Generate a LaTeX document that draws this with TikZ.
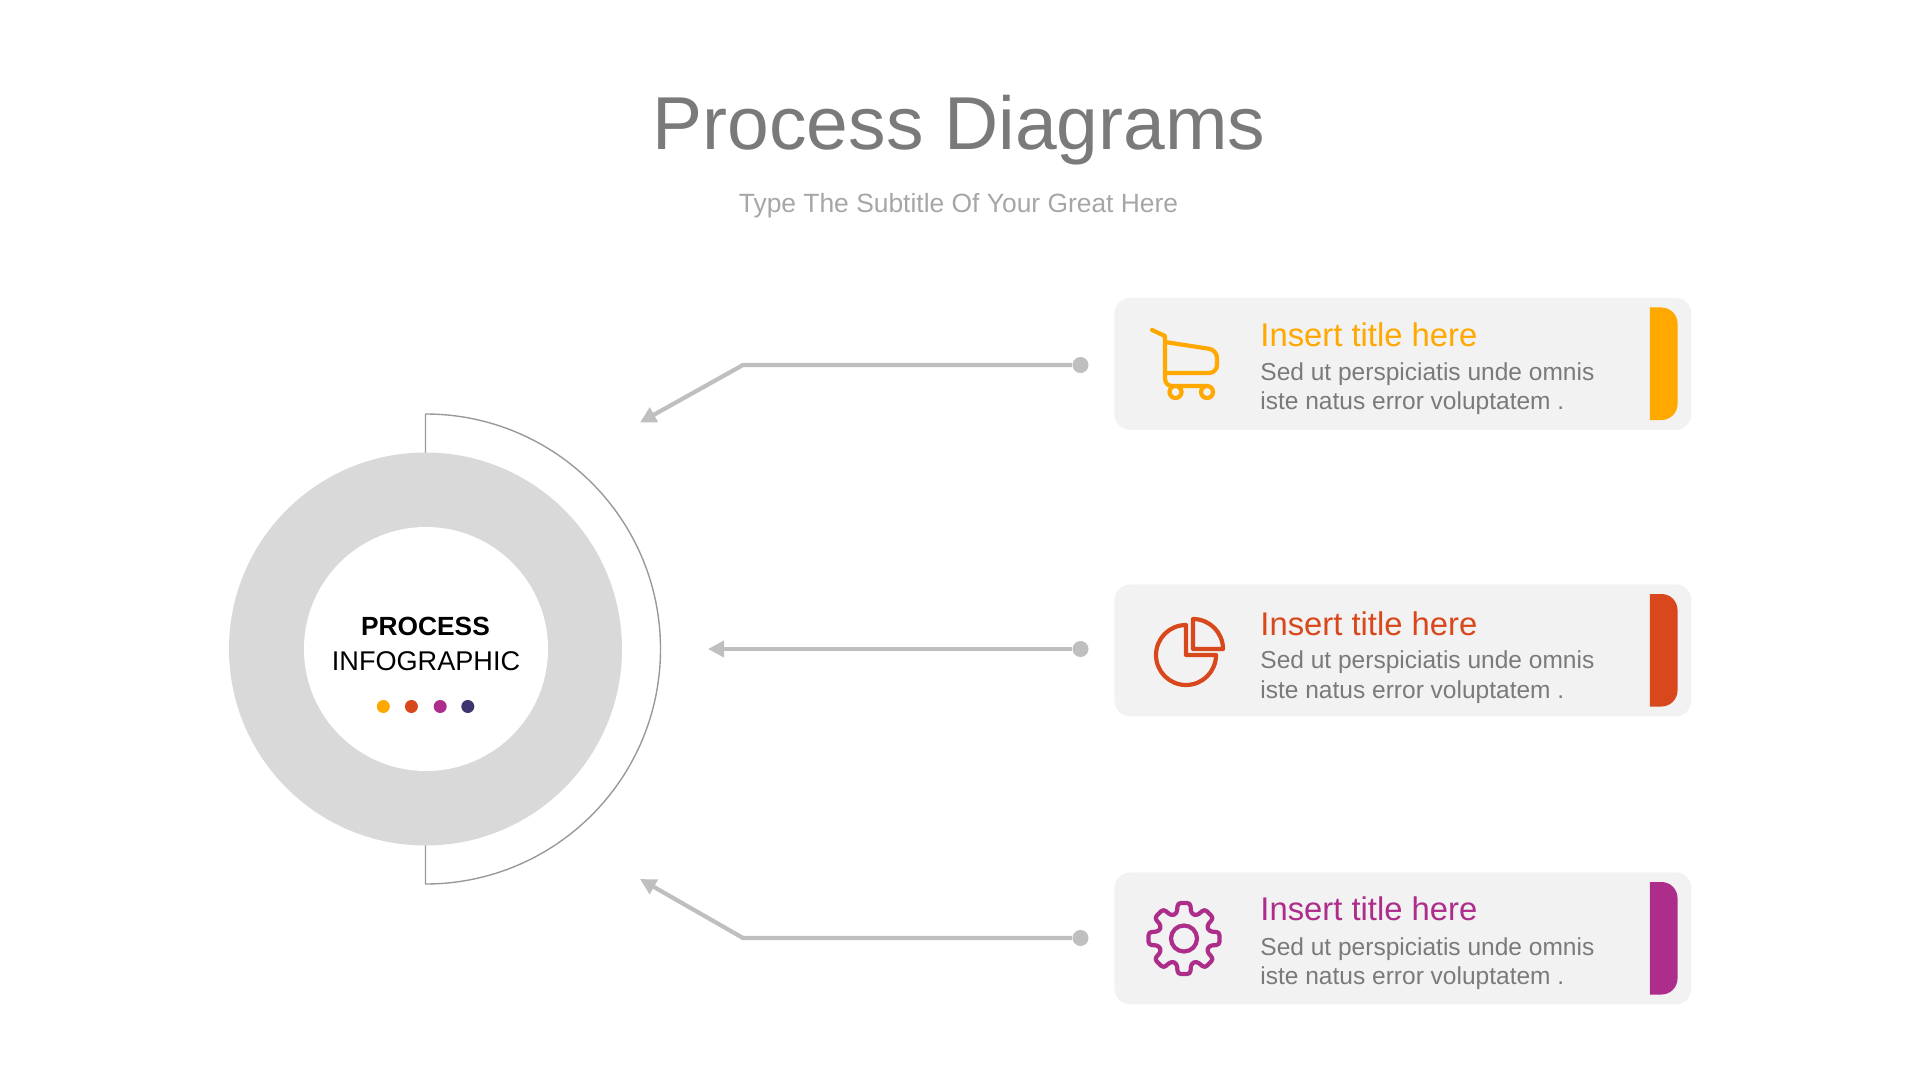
\documentclass[tikz,border=0pt]{standalone}
\usepackage{fontspec}
\setmainfont{Liberation Sans}
\usetikzlibrary{arrows.meta}

\definecolor{ordersun}{HTML}{FFA800}
\definecolor{orderrust}{HTML}{D9481C}
\definecolor{orderplum}{HTML}{AD2D8A}
\definecolor{ordernavy}{HTML}{3F3470}
\definecolor{ringgrey}{HTML}{D9D9D9}
\definecolor{cardgrey}{HTML}{F2F2F2}
\definecolor{wiregrey}{HTML}{BFBFBF}

\tikzset{
  cardbox/.style={fill=cardgrey,rounded corners=8pt,minimum width=288.5pt,minimum height=66pt,inner sep=0pt,anchor=north west},
  cardtitle/.style={inner sep=0pt,anchor=base west,font=\fontsize{16.4}{18}\selectfont},
  cardbody/.style={inner sep=0pt,anchor=west,align=left,text=black!52,font=\fontsize{12.26}{14.75}\selectfont},
  wiredot/.style={circle,fill=wiregrey,minimum size=8pt,inner sep=0pt},
  wire/.style={draw=wiregrey,line width=2.1pt,-{Triangle[length=8pt,width=8pt]}},
  iconline/.style={line width=2.1pt,line join=round,line cap=round},
  colordot/.style={circle,minimum size=6.5pt,inner sep=0pt},
}

\begin{document}
\begin{tikzpicture}[x=0.5pt,y=-0.5pt]
    \useasboundingbox (0,0) rectangle (1920,1080);
    %heading
    \node (heading) at (959,130) [inner sep=0pt,text=black!52,font=\fontsize{37.5}{40}\selectfont] {Process Diagrams};
    \node (subheading) at (958.5,206) [inner sep=0pt,text=black!35,font=\fontsize{13.2}{16}\selectfont] {Type The Subtitle Of Your Great Here};

    %round part on the left
    \draw[black!40,line width=0.7pt] (425.5,414) arc (-90:90:235) -- cycle;
    \fill[ringgrey] (425.5,649) circle (196.5);
    \node (hub) at (426,649) [circle,fill=white,minimum size=122pt,inner sep=0pt] {};
    \node (hubtop) at (425.5,626) [inner sep=0pt,font=\bfseries\fontsize{13.15}{16}\selectfont] {PROCESS};
    \node (hubbottom) at (426,661.5) [inner sep=0pt,font=\fontsize{13.55}{16}\selectfont] {INFOGRAPHIC};
    \node (dota) at (383.3,706.5) [colordot,fill=ordersun] {};
    \node (dotb) at (411.4,706.5) [colordot,fill=orderrust] {};
    \node (dotc) at (440.2,706.5) [colordot,fill=orderplum] {};
    \node (dotd) at (467.8,706.5) [colordot,fill=ordernavy] {};

    %the three cards
    \foreach \row/\hue/\ytop/\tlift/\blift in {a/ordersun/297.5/-1/-1,b/orderrust/584/1/1,c/orderplum/872/-2/-0.5} {
      \node (card\row) at (1114,\ytop) [cardbox] {};
      \fill[\hue] (1649.8,\ytop+10) [rounded corners=8pt] -- (1677.5,\ytop+10) -- (1677.5,\ytop+122.5) [sharp corners] -- (1649.8,\ytop+122.5) -- cycle;
      \node (title\row) at (1260,\ytop+50+\tlift) [cardtitle,text=\hue] {Insert title here};
      \node (text\row) at (1260,\ytop+92+\blift) [cardbody] {Sed ut perspiciatis unde omnis\\iste natus error voluptatem .};
    }

    %connectors
    \node (enda) at (1080.5,365) [wiredot] {};
    \node (endb) at (1080.5,649) [wiredot] {};
    \node (endc) at (1080.5,938) [wiredot] {};
    \coordinate (benda) at (743,365);
    \coordinate (bendc) at (743,938);
    \coordinate (tipa) at (640,422.5);
    \coordinate (tipb) at (708,649);
    \coordinate (tipc) at (640,879);
    \draw[wire] (enda) -- (benda) -- (tipa);
    \draw[wire] (endb) -- (tipb);
    \draw[wire] (endc) -- (bendc) -- (tipc);

    %cart
    \draw[iconline,ordersun] (1152,330) -- (1165,336) -- (1165,377) .. controls (1165,384) and (1168,386) .. (1173,386) -- (1207,386);
    \draw[iconline,ordersun,rounded corners=4pt] (1165,342) -- (1217,350) -- (1217,373) -- (1165,373);
    \draw[iconline,ordersun] (1175.5,392) circle (6);
    \draw[iconline,ordersun] (1207,392) circle (6);

    %pie
    \draw[iconline,orderrust] (1186,625) arc (-90:-360:30) -- (1186,655) -- cycle;
    \draw[iconline,orderrust] (1193,619) arc (-90:0:30) -- (1193,649) -- cycle;

    %gear
    \draw[iconline,orderplum,rounded corners=1.5pt,shift={(1184,938.5)}] (-16:26) -- (-10:36) -- (10:36) -- (16:26)
      \foreach \a in {45,90,...,315} { -- (\a-16:26) -- (\a-10:36) -- (\a+10:36) -- (\a+16:26) } -- cycle;
    \draw[iconline,orderplum] (1184,938.5) circle (13);
\end{tikzpicture}
\end{document}
